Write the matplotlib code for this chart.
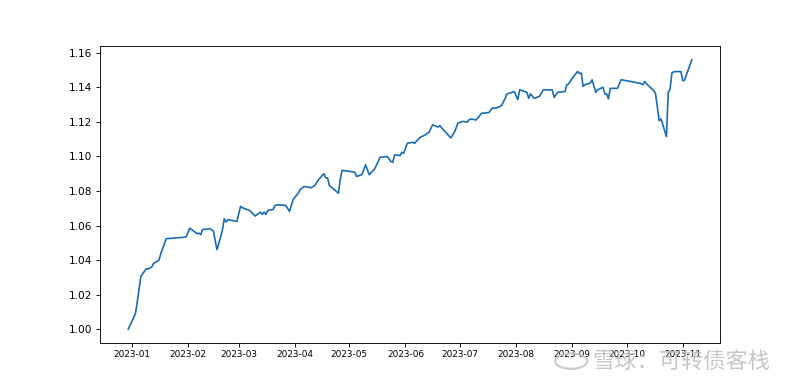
import matplotlib
matplotlib.use("Agg")
import matplotlib.pyplot as plt
import pandas as pd
from matplotlib.patches import Circle

dates = [
    "2022-12-30", "2023-01-03", "2023-01-04", "2023-01-06", "2023-01-09", "2023-01-10",
    "2023-01-12", "2023-01-13", "2023-01-16", "2023-01-17", "2023-01-18", "2023-01-20",
    "2023-01-30", "2023-01-31", "2023-02-02", "2023-02-06", "2023-02-07", "2023-02-08",
    "2023-02-09", "2023-02-13", "2023-02-14", "2023-02-15", "2023-02-17", "2023-02-20",
    "2023-02-21", "2023-02-22", "2023-02-23", "2023-02-28", "2023-03-02", "2023-03-03",
    "2023-03-07", "2023-03-10", "2023-03-13", "2023-03-14", "2023-03-15", "2023-03-16",
    "2023-03-17", "2023-03-20", "2023-03-21", "2023-03-23", "2023-03-27", "2023-03-29",
    "2023-03-31", "2023-04-03", "2023-04-04", "2023-04-06", "2023-04-10", "2023-04-12",
    "2023-04-14", "2023-04-17", "2023-04-18", "2023-04-19", "2023-04-20", "2023-04-25",
    "2023-04-26", "2023-04-27", "2023-04-28", "2023-05-04", "2023-05-05", "2023-05-08",
    "2023-05-09", "2023-05-10", "2023-05-12", "2023-05-15", "2023-05-18", "2023-05-22",
    "2023-05-24", "2023-05-25", "2023-05-26", "2023-05-29", "2023-05-30", "2023-05-31",
    "2023-06-02", "2023-06-05", "2023-06-06", "2023-06-09", "2023-06-12", "2023-06-14",
    "2023-06-16", "2023-06-19", "2023-06-20", "2023-06-21", "2023-06-26", "2023-06-28",
    "2023-06-30", "2023-07-03", "2023-07-05", "2023-07-06", "2023-07-07", "2023-07-10",
    "2023-07-13", "2023-07-17", "2023-07-19", "2023-07-21", "2023-07-24", "2023-07-26",
    "2023-07-27", "2023-07-28", "2023-07-31", "2023-08-02", "2023-08-03", "2023-08-07",
    "2023-08-08", "2023-08-09", "2023-08-11", "2023-08-14", "2023-08-16", "2023-08-18",
    "2023-08-21", "2023-08-22", "2023-08-24", "2023-08-28", "2023-08-29", "2023-08-30",
    "2023-09-01", "2023-09-04", "2023-09-05", "2023-09-06", "2023-09-07", "2023-09-08",
    "2023-09-11", "2023-09-12", "2023-09-14", "2023-09-15", "2023-09-18", "2023-09-19",
    "2023-09-20", "2023-09-21", "2023-09-22", "2023-09-26", "2023-09-28", "2023-10-09",
    "2023-10-10", "2023-10-11", "2023-10-13", "2023-10-16", "2023-10-17", "2023-10-19",
    "2023-10-20", "2023-10-23", "2023-10-24", "2023-10-25", "2023-10-26", "2023-10-27",
    "2023-10-30", "2023-10-31", "2023-11-01", "2023-11-02", "2023-11-06",
]

values = [
    1.0000, 1.0090, 1.0158, 1.0306, 1.0350, 1.0348,
    1.0360, 1.0380, 1.0400, 1.0437, 1.0466, 1.0524,
    1.0532, 1.0535, 1.0585, 1.0553, 1.0556, 1.0547,
    1.0576, 1.0582, 1.0575, 1.0568, 1.0460, 1.0572,
    1.0640, 1.0620, 1.0634, 1.0624, 1.0711, 1.0703,
    1.0687, 1.0655, 1.0678, 1.0664, 1.0678, 1.0664,
    1.0687, 1.0693, 1.0716, 1.0720, 1.0716, 1.0682,
    1.0750, 1.0790, 1.0809, 1.0826, 1.0819, 1.0832,
    1.0865, 1.0900, 1.0876, 1.0876, 1.0832, 1.0787,
    1.0865, 1.0919, 1.0918, 1.0909, 1.0884, 1.0895,
    1.0923, 1.0951, 1.0894, 1.0928, 1.0995, 1.0999,
    1.0970, 1.0966, 1.1009, 1.1005, 1.1024, 1.1018,
    1.1076, 1.1082, 1.1076, 1.1110, 1.1125, 1.1140,
    1.1183, 1.1170, 1.1178, 1.1165, 1.1107, 1.1140,
    1.1194, 1.1203, 1.1198, 1.1211, 1.1217, 1.1211,
    1.1250, 1.1254, 1.1280, 1.1280, 1.1294, 1.1336,
    1.1362, 1.1365, 1.1375, 1.1329, 1.1386, 1.1371,
    1.1336, 1.1362, 1.1336, 1.1348, 1.1385, 1.1385,
    1.1385, 1.1342, 1.1371, 1.1375, 1.1414, 1.1420,
    1.1452, 1.1492, 1.1480, 1.1482, 1.1405, 1.1415,
    1.1425, 1.1443, 1.1371, 1.1385, 1.1400, 1.1362,
    1.1362, 1.1333, 1.1394, 1.1394, 1.1444, 1.1422,
    1.1415, 1.1433, 1.1410, 1.1381, 1.1362, 1.1207,
    1.1217, 1.1115, 1.1371, 1.1390, 1.1483, 1.1490,
    1.1492, 1.1490, 1.1438, 1.1442, 1.1560,
]

watermark = "雪球：可转债客栈"

fig = plt.figure(figsize=(10, 4.8125), dpi=80)
ax = fig.add_subplot(111)
ax.plot(pd.to_datetime(dates), values, color="#1a6cb2", linewidth=1.5)
ax.tick_params(axis="x", labelsize=8)
ax.tick_params(axis="y", labelsize=9.5)

fig.text(0.74, 0.062, watermark, fontsize=20, color="#bdbdbd", alpha=0.85,
         family=["Noto Sans CJK SC", "DejaVu Sans"], ha="left", va="center")
fig.patches.append(Circle((0.714, 0.062), 0.02, transform=fig.transFigure,
                          fill=False, edgecolor="#c4c4c4", linewidth=2.0, alpha=0.85))

fig.savefig("out.png", dpi=80)
